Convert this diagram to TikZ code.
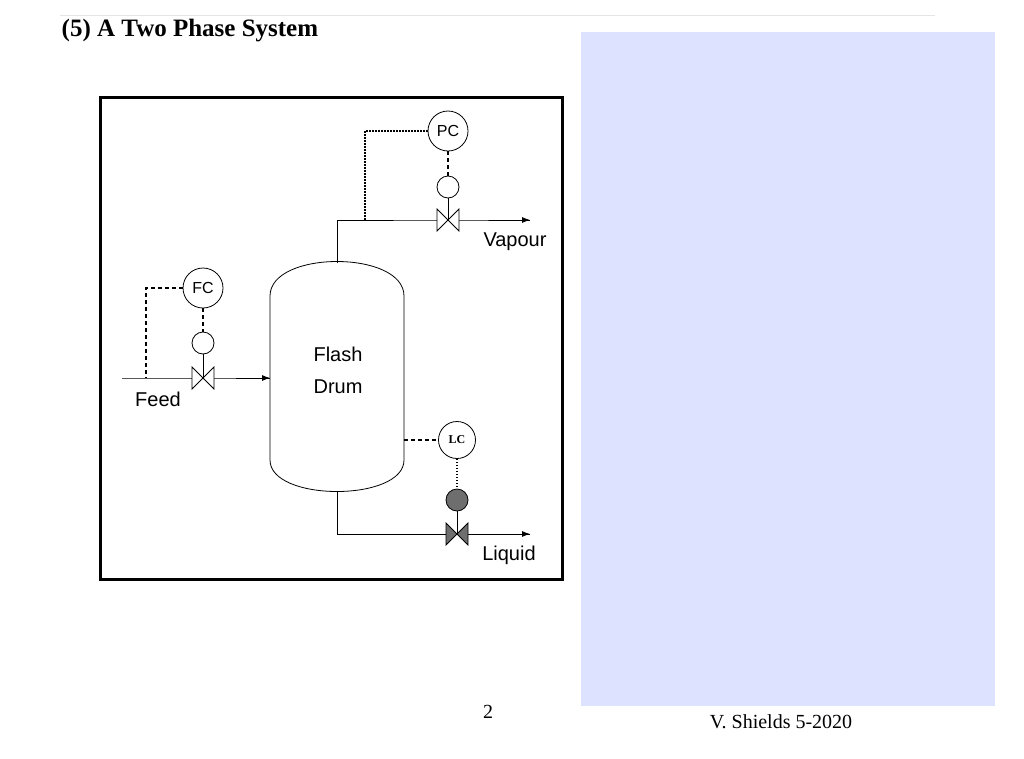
\documentclass[tikz,border=0pt]{standalone}
\usepackage{fontspec}
\setmainfont{Liberation Serif}
\newfontfamily\pidfont{Liberation Sans}
\usetikzlibrary{arrows.meta,positioning,calc}
\definecolor{panelblue}{RGB}{221,227,255}
\definecolor{valvegray}{RGB}{110,110,110}
\tikzset{
  every path/.style={line width=0.8pt},
  ctrl/.style={circle, draw, minimum size=40pt, inner sep=0pt, font=\pidfont\fontsize{16}{16}\selectfont},
  act/.style={circle, draw, minimum size=22pt, inner sep=0pt},
  pipe/.style={},
  flow/.style={-{Latex[length=8pt,width=6pt]}},
  sig/.style={line width=1.8pt, dash pattern=on 4pt off 3pt},
  sigdot/.style={line width=1.8pt, dash pattern=on 1.5pt off 1.5pt},
  lbl/.style={font=\pidfont\fontsize{20}{20}\selectfont}
}
% bowtie valve centred at #1, fill #2
\newcommand\valve[2]{%
  \filldraw[fill=#2] ($(#1)+(-11,-11)$) -- ($(#1)+(-11,11)$) -- (#1) -- cycle;
  \filldraw[fill=#2] ($(#1)+(11,-11)$) -- ($(#1)+(11,11)$) -- (#1) -- cycle;}
\begin{document}
\begin{tikzpicture}[x=1pt, y=-1pt]
  \useasboundingbox (0,0) rectangle (1024,758);
  \draw[black!10] (60,15) -- (935,15);
  \node[anchor=west, font=\bfseries\fontsize{25}{25}\selectfont] (title) at (58,31) {(5) A Two Phase System};
  \fill[panelblue] (581,32) rectangle (995,706);
  \node[font=\fontsize{20}{20}\selectfont] (page) at (488,712) {2};
  \node[font=\fontsize{20}{20}\selectfont] (author) at (781,722) {V. Shields 5-2020};
  \draw[line width=3pt] (100,97) rectangle (562,579);
  % drum
  \draw (270,296) .. controls (270,250) and (404,250) .. (404,296)
     -- (404,460) .. controls (404,502) and (270,502) .. (270,460) -- cycle;
  \coordinate (drumtop) at (337,263);
  \coordinate (drumbot) at (337,491);
  \coordinate (drumin) at (270,378);
  \coordinate (drumlc) at (404,440);
  \node[lbl] (flash) at (338,354) {Flash};
  \node[lbl] (drum) at (338,387) {Drum};
  % vapour line
  \coordinate (vv) at (448,220);
  \coordinate (vapend) at (530,220);
  \coordinate (vtap) at (365,220);
  \node[ctrl] (pc) at (448,131) {PC};
  \node[act] (pca) at (448,187) {};
  \draw[pipe] (drumtop) |- (vv) -- (vapend);
  \draw[flow] ($(vapend)+(-14,0)$) -- (vapend);
  \valve{vv}{white}
  \draw (pca) -- (vv);
  \draw[sig] (pc) -- (pca);
  \draw[sigdot] (pc) -| (vtap);
  \node[lbl] (vapour) at (515,242) {Vapour};
  % feed line
  \coordinate (fstart) at (122,378);
  \coordinate (fv) at (203,378);
  \coordinate (ftap) at (146,378);
  \node[ctrl] (fc) at (203,288) {FC};
  \node[act] (fca) at (203,343) {};
  \draw[pipe] (fstart) -- (fv) -- (drumin);
  \draw[flow] ($(drumin)+(-14,0)$) -- (drumin);
  \valve{fv}{white}
  \draw (fca) -- (fv);
  \draw[sig] (fc) -- (fca);
  \draw[sig] (fc) -| (ftap);
  \node[lbl] (feed) at (158,399) {Feed};
  % liquid line
  \coordinate (lv) at (457,534);
  \coordinate (liqend) at (530,534);
  \node[ctrl, minimum size=37pt, font=\bfseries\fontsize{12}{12}\selectfont] (lc) at (457,440) {LC};
  \node[act, fill=valvegray] (lca) at (457,500) {};
  \draw[pipe] (drumbot) |- (lv) -- (liqend);
  \draw[flow] ($(liqend)+(-14,0)$) -- (liqend);
  \valve{lv}{valvegray}
  \draw (lca) -- (lv);
  \draw[sigdot] (lc) -- (lca);
  \draw[sig] (drumlc) -- (lc);
  \node[lbl] (liquid) at (509,555) {Liquid};
\end{tikzpicture}
\end{document}
